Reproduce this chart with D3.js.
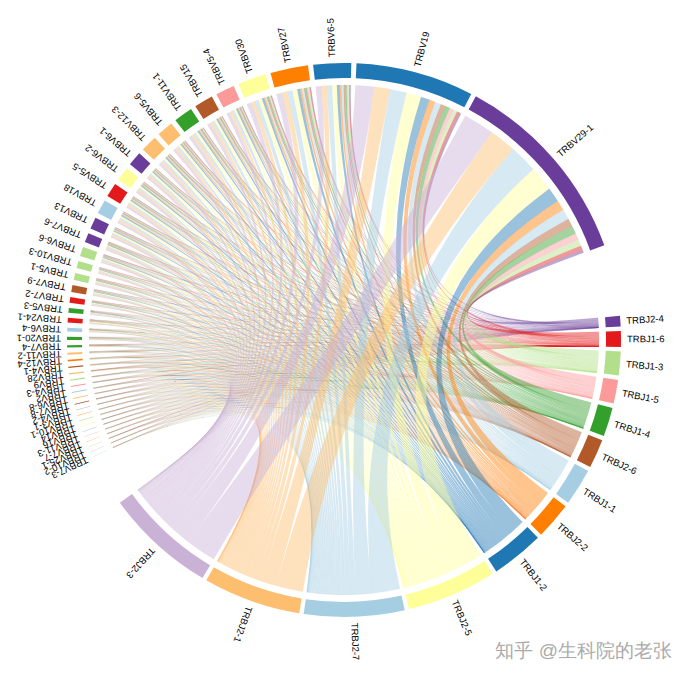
<!DOCTYPE html>
<html><head><meta charset="utf-8">
<script src="https://cdn.jsdelivr.net/npm/d3@7"></script>
<style>body{margin:0;background:#fff}text{font-family:"Liberation Sans",Arial,sans-serif}</style>
</head><body><svg id="c" width="685" height="677"></svg>
<script>
// V genes, clockwise starting from the lower-left tail up to TRBV29-1
const vNames = ["TRBV7-3","TRBV10-2","TRBV25-1","TRBV7-7","TRBV11-3","TRBV16","TRBV14","TRBV10-1","TRBV3-1","TRBV4-2","TRBV7-8","TRBV6-8","TRBV2","TRBV4-3","TRBV9","TRBV28","TRBV4-1","TRBV12-4","TRBV11-2","TRBV7-4",
 "TRBV20-1","TRBV6-4","TRBV24-1","TRBV5-3","TRBV7-2","TRBV7-9","TRBV5-1","TRBV10-3","TRBV6-6","TRBV7-6","TRBV13","TRBV18","TRBV5-5","TRBV6-2","TRBV6-1","TRBV12-3","TRBV5-6","TRBV11-1","TRBV15","TRBV5-4","TRBV30","TRBV27","TRBV6-5","TRBV19","TRBV29-1"];
const vValues = [0.05,0.05,0.06,0.06,0.07,0.08,0.09,0.1,0.12,0.14,0.16,0.18,0.2,0.22,0.25,0.28,0.3,0.35,0.4,0.5,
 0.7,0.8,1.0,1.0,1.2,1.5,1.5,1.5,2,2,2.5,3,3,3,3,3.5,3.5,4,4,4,6,8,8,25,42];
const vColors = ["#a6cee3","#cab2d6","#b2df8a","#fdbf6f","#fb9a99","#a6cee3","#ffff99","#b2df8a","#fdbf6f","#cab2d6","#b15928","#fdbf6f","#a6cee3","#fb9a99","#b2df8a","#fdbf6f","#b15928","#ff7f00","#fdbf6f","#33a02c",
 "#33a02c","#a6cee3","#e31a1c","#33a02c","#e31a1c","#b15928","#b2df8a","#b2df8a","#b2df8a","#6a3d9a","#6a3d9a","#a6cee3","#e31a1c","#ffff99","#6a3d9a","#fdbf6f","#fdbf6f","#33a02c","#b15928","#fb9a99","#ffff99","#ff7f00","#1f78b4","#1f78b4","#6a3d9a"];
// J genes clockwise from the right
const jNames = ["TRBJ2-4","TRBJ1-6","TRBJ1-3","TRBJ1-5","TRBJ1-4","TRBJ2-6","TRBJ1-1","TRBJ2-2","TRBJ1-2","TRBJ2-5","TRBJ2-7","TRBJ2-1","TRBJ2-3"];
const jValues = [2,3,4.5,4.5,5.5,5.5,7,7,10,17,19,18.5,21];
const jColors = ["#6a3d9a","#e31a1c","#b2df8a","#fb9a99","#33a02c","#b15928","#a6cee3","#ff7f00","#1f78b4","#ffff99","#a6cee3","#fdbf6f","#cab2d6"];

const cx=344, cy=340, rIn=262, rOut=277, rRib=255, rLab=283;
const deg=Math.PI/180;
const sumV=d3.sum(vValues), sumJ=d3.sum(jValues);
const k=138*deg/sumV;
const vStart=245*deg, vEnd=430*deg, jStart=85*deg, jEnd=234*deg;
const gv=(vEnd-vStart-k*sumV)/(vNames.length-1);
const jScale=sumV/sumJ;
const gj=(jEnd-jStart-k*sumV)/(jNames.length-1);

const vg=[];let a=vStart;
vValues.forEach((v,i)=>{vg.push({name:vNames[i],color:vColors[i],s:a,e:a+v*k});a+=v*k+gv;});
const jg=[];a=jStart;
jValues.forEach((v,i)=>{const w=v*jScale*k;jg.push({name:jNames[i],color:jColors[i],s:a,e:a+w});a+=w+gj;});

const matrix=vValues.map(v=>jValues.map(j=>v*j/sumJ));

const ribbons=[];
const vCur=vg.map(g=>g.s);
vg.forEach((g,i)=>{for(let j=jg.length-1;j>=0;j--){const w=matrix[i][j]*k;ribbons.push({i,j,src:{startAngle:vCur[i],endAngle:vCur[i]+w}});vCur[i]+=w;}});
const jCur=jg.map(g=>g.s);
const byJ={};ribbons.forEach(r=>{(byJ[r.j]=byJ[r.j]||[]).push(r);});
Object.keys(byJ).forEach(j=>{byJ[j].sort((a,b)=>b.i-a.i).forEach(r=>{const w=matrix[r.i][r.j]*k;r.tgt={startAngle:jCur[j],endAngle:jCur[j]+w};jCur[j]+=w;});});

const svg=d3.select("#c");
const g=svg.append("g").attr("transform",`translate(${cx},${cy})`);
const rib=d3.ribbon().radius(rRib);
g.append("g").selectAll("path").data(ribbons).join("path")
 .attr("d",r=>rib({source:r.src,target:r.tgt}))
 .attr("fill",r=>jColors[r.j]).attr("fill-opacity",0.45)
 .attr("stroke",r=>jColors[r.j]).attr("stroke-opacity",0.15).attr("stroke-width",0.3);
const arc=d3.arc().innerRadius(rIn).outerRadius(rOut);
const all=vg.concat(jg);
g.append("g").selectAll("path").data(all).join("path")
 .attr("d",d=>arc({startAngle:d.s,endAngle:d.e})).attr("fill",d=>d.color);
g.append("g").selectAll("text").data(all).join("text")
 .attr("transform",d=>{const m=(d.s+d.e)/2;return `rotate(${m/deg-90}) translate(${rLab},0)`;})
 .attr("dy","0.35em").attr("font-size",9.5).attr("fill","#000").text(d=>d.name);
svg.append("text").attr("x",672).attr("y",657).attr("text-anchor","end")
 .attr("font-size",19).attr("fill","#aaa").attr("font-family","Noto Sans CJK SC").text("知乎 @生科院的老张");
</script></body></html>
